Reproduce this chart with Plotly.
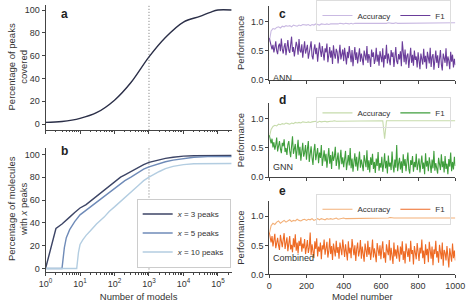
import numpy as np
import plotly.graph_objects as go

# ---------------- data ----------------
# Panel a: percentage of peaks covered vs number of models
a_models = [1, 3, 10, 30, 100, 300, 1000, 3000, 10000, 30000, 60000, 100000, 250000]
a_pct = [1.5, 2.3, 5, 10, 21, 36.5, 59, 76, 89.5, 94.5, 98, 100, 100]

# Panel b: percentage of molecules with x peaks
b3_models = [1, 2, 3, 4, 5, 7, 10, 15, 20, 30, 50, 70, 100, 150, 200, 300, 500, 700,
             1000, 2000, 3000, 5000, 10000, 20000, 50000, 100000, 250000]
b3_pct = [0, 35, 39, 42, 45, 49, 53, 56, 59, 63, 68, 72, 76, 80, 82, 85, 89, 91,
          93, 95.5, 96.5, 97.5, 98.5, 98.8, 99, 99, 99]
b5_models = [1, 2, 3, 3.5, 4, 5, 7, 10, 15, 20, 30, 50, 70, 100, 150, 200, 300, 500, 700,
             1000, 2000, 3000, 5000, 10000, 20000, 50000, 100000, 250000]
b5_pct = [0, 0, 0, 18, 27, 34, 41, 47, 51, 54, 58, 63, 67, 70, 74, 77, 80, 84, 87,
          89, 92, 93.5, 95, 96.5, 97.5, 98, 98, 98]
b10_models = [1, 2, 5, 8, 9, 10, 12, 15, 20, 30, 50, 70, 100, 150, 200, 300, 500, 700,
              1000, 2000, 3000, 5000, 10000, 20000, 50000, 100000, 250000]
b10_pct = [0, 0, 0, 0, 14, 21, 25, 29, 33, 39, 45, 50, 54, 59, 62, 67, 73, 77,
           80, 85, 87.5, 89.5, 91, 91.8, 92, 92, 92]
threshold_models = 1000

b_labels = ["<i>x</i> = 3 peaks", "<i>x</i> = 5 peaks", "<i>x</i> = 10 peaks"]
decade_vals = [1, 10, 100, 1000, 10000, 100000]
decade_text = ["10<sup>0</sup>", "10<sup>1</sup>", "10<sup>2</sup>",
               "10<sup>3</sup>", "10<sup>4</sup>", "10<sup>5</sup>"]

# Panels c-e: performance vs model number
f1_models = list(range(0, 1001, 5))
acc_models = list(range(0, 1001, 10))

ann_f1 = [0.72,0.64,0.58,0.52,0.60,0.47,0.55,0.66,0.50,0.44,0.58,0.62,0.49,0.71,0.53,0.45,0.57,0.63,0.42,0.55,0.68,
          0.51,0.46,0.60,0.74,0.48,0.56,0.40,0.52,0.65,0.58,0.43,0.70,0.50,0.47,0.61,0.38,0.55,0.66,0.45,0.53,
          0.60,0.36,0.49,0.57,0.66,0.41,0.35,0.52,0.61,0.44,0.55,0.31,0.48,0.64,0.50,0.39,0.58,0.45,0.33,0.54,
          0.47,0.62,0.30,0.42,0.56,0.38,0.50,0.27,0.59,0.44,0.36,0.53,0.48,0.28,0.41,0.60,0.35,0.46,0.52,0.32,
          0.55,0.40,0.26,0.48,0.37,0.58,0.44,0.30,0.51,0.23,0.42,0.56,0.34,0.47,0.28,0.39,0.54,0.31,0.45,0.36,
          0.25,0.50,0.41,0.33,0.58,0.29,0.44,0.37,0.22,0.52,0.39,0.47,0.27,0.35,0.55,0.31,0.43,0.24,0.49,0.38,
          0.30,0.54,0.21,0.42,0.36,0.60,0.28,0.45,0.33,0.25,0.51,0.39,0.47,0.22,0.38,0.56,0.32,0.27,0.44,0.35,
          0.49,0.23,0.66,0.37,0.30,0.52,0.26,0.41,0.45,0.20,0.36,0.55,0.29,0.43,0.24,0.50,0.34,0.40,0.21,0.47,
          0.33,0.18,0.45,0.38,0.26,0.53,0.30,0.41,0.19,0.48,0.35,0.28,0.55,0.22,0.39,0.44,0.17,0.36,0.50,0.29,
          0.42,0.20,0.34,0.51,0.26,0.16,0.45,0.37,0.29,0.54,0.23,0.40,0.33,0.18,0.48,0.31,0.43,0.21,0.36,0.25]

gnn_f1 = [0.72,0.63,0.58,0.66,0.51,0.60,0.47,0.55,0.68,0.44,0.57,0.62,0.49,0.41,0.59,0.53,0.65,0.43,0.50,0.38,0.56,
          0.62,0.45,0.34,0.53,0.70,0.40,0.48,0.57,0.31,0.44,0.64,0.37,0.52,0.28,0.46,0.59,0.35,0.42,0.55,0.30,
          0.48,0.62,0.26,0.39,0.53,0.33,0.21,0.45,0.57,0.29,0.37,0.50,0.24,0.42,0.33,0.55,0.19,0.36,0.46,0.27,
          0.40,0.16,0.31,0.50,0.23,0.38,0.14,0.44,0.28,0.35,0.52,0.19,0.30,0.42,0.13,0.26,0.47,0.22,0.34,0.17,
          0.29,0.45,0.12,0.24,0.38,0.20,0.50,0.15,0.32,0.09,0.27,0.41,0.18,0.35,0.11,0.23,0.44,0.16,0.30,0.21,
          0.10,0.38,0.25,0.17,0.46,0.12,0.29,0.08,0.34,0.21,0.40,0.14,0.26,0.07,0.32,0.19,0.43,0.11,0.24,0.16,
          0.35,0.09,0.22,0.41,0.15,0.28,0.06,0.37,0.18,0.25,0.12,0.44,0.20,0.08,0.30,0.16,0.55,0.10,0.23,0.33,
          0.13,0.27,0.07,0.39,0.19,0.31,0.10,0.24,0.42,0.14,0.06,0.29,0.21,0.36,0.09,0.26,0.17,0.40,0.12,0.22,
          0.32,0.08,0.19,0.37,0.14,0.25,0.05,0.41,0.18,0.28,0.10,0.34,0.22,0.07,0.30,0.15,0.45,0.11,0.24,0.16,
          0.06,0.33,0.20,0.12,0.39,0.17,0.27,0.08,0.36,0.14,0.23,0.05,0.31,0.18,0.42,0.10,0.26,0.13,0.35,0.19]

comb_f1 = [0.72,0.61,0.55,0.66,0.48,0.59,0.70,0.45,0.57,0.63,0.50,0.42,0.68,0.54,0.47,0.60,0.71,0.44,0.52,0.64,0.40,
           0.56,0.66,0.43,0.51,0.38,0.62,0.47,0.69,0.41,0.55,0.36,0.58,0.49,0.64,0.39,0.53,0.45,0.61,0.35,0.50,
           0.59,0.37,0.46,0.72,0.33,0.52,0.41,0.28,0.57,0.44,0.62,0.31,0.48,0.39,0.55,0.26,0.50,0.43,0.60,0.34,
           0.45,0.56,0.29,0.40,0.62,0.35,0.49,0.25,0.53,0.42,0.31,0.58,0.37,0.47,0.27,0.55,0.39,0.33,0.60,0.44,
           0.30,0.52,0.41,0.24,0.57,0.36,0.46,0.28,0.61,0.38,0.33,0.50,0.23,0.44,0.55,0.31,0.40,0.59,0.27,0.48,
           0.36,0.22,0.53,0.42,0.30,0.58,0.34,0.47,0.25,0.39,0.60,0.29,0.45,0.35,0.21,0.54,0.41,0.32,0.50,0.26,
           0.44,0.57,0.28,0.38,0.20,0.52,0.41,0.33,0.59,0.24,0.46,0.36,0.18,0.55,0.31,0.43,0.27,0.50,0.37,0.22,
           0.48,0.34,0.57,0.25,0.40,0.19,0.53,0.37,0.30,0.45,0.22,0.58,0.35,0.42,0.17,0.49,0.32,0.26,0.54,0.39,
           0.23,0.46,0.36,0.60,0.28,0.41,0.18,0.52,0.33,0.44,0.21,0.56,0.38,0.27,0.48,0.16,0.43,0.35,0.58,0.29,
           0.40,0.20,0.51,0.34,0.26,0.55,0.15,0.42,0.37,0.24,0.49,0.31,0.12,0.45,0.36,0.22,0.53,0.28,0.41,0.24]

ann_acc = [0.65,0.84,0.88,0.87,0.90,0.91,0.89,0.92,0.91,0.93,0.92,0.93,0.91,0.94,0.93,0.92,0.94,0.93,0.95,0.94,
           0.94,0.95,0.93,0.95,0.94,0.96,0.95,0.94,0.96,0.95,0.95,0.96,0.95,0.96,0.96,0.95,0.96,0.96,0.97,0.96,
           0.96,0.97,0.96,0.96,0.97,0.96,0.97,0.97,0.96,0.97,0.97,0.97,0.96,0.97,0.97,0.97,0.97,0.97,0.97,0.97,
           0.97,0.97,0.97,0.97,0.98,0.97,0.97,0.97,0.98,0.97,0.97,0.98,0.97,0.97,0.98,0.97,0.98,0.97,0.98,0.98,
           0.97,0.98,0.98,0.97,0.98,0.98,0.98,0.97,0.98,0.98,0.98,0.98,0.97,0.98,0.98,0.98,0.98,0.98,0.98,0.98,0.98]

gnn_acc = [0.68,0.82,0.87,0.89,0.88,0.91,0.90,0.92,0.91,0.93,0.92,0.91,0.93,0.92,0.94,0.93,0.94,0.93,0.95,0.94,
           0.94,0.95,0.94,0.95,0.95,0.96,0.94,0.96,0.95,0.96,0.96,0.95,0.96,0.96,0.96,0.97,0.96,0.96,0.97,0.96,
           0.97,0.96,0.97,0.97,0.96,0.97,0.97,0.97,0.97,0.96,0.97,0.97,0.97,0.97,0.97,0.97,0.97,0.97,0.97,0.97,
           0.97,0.97,0.66,0.97,0.97,0.97,0.97,0.98,0.97,0.97,0.97,0.97,0.97,0.98,0.97,0.97,0.97,0.98,0.97,0.97,
           0.98,0.97,0.97,0.97,0.98,0.97,0.97,0.98,0.97,0.97,0.98,0.97,0.97,0.98,0.97,0.97,0.98,0.97,0.97,0.97,0.97]

comb_acc = [0.70,0.84,0.88,0.86,0.90,0.92,0.88,0.91,0.93,0.90,0.92,0.94,0.91,0.93,0.92,0.95,0.93,0.92,0.94,0.95,
            0.93,0.95,0.94,0.96,0.93,0.95,0.96,0.94,0.96,0.95,0.94,0.96,0.95,0.96,0.95,0.96,0.97,0.95,0.96,0.96,
            0.97,0.96,0.96,0.97,0.96,0.97,0.96,0.97,0.97,0.96,0.97,0.97,0.97,0.96,0.97,0.97,0.97,0.97,0.97,0.97,
            0.97,0.97,0.97,0.97,0.97,0.98,0.97,0.97,0.97,0.97,0.98,0.97,0.97,0.97,0.98,0.97,0.97,0.98,0.97,0.97,
            0.98,0.97,0.98,0.97,0.97,0.98,0.97,0.98,0.97,0.98,0.97,0.98,0.97,0.98,0.97,0.98,0.97,0.98,0.98,0.97,0.97]

panel_names = ["ANN", "GNN", "Combined"]
f1_series = [ann_f1, gnn_f1, comb_f1]
acc_series = [ann_acc, gnn_acc, comb_acc]

# ---------------- styling / layout ----------------
W, H = 474, 304
FONT = "Liberation Sans, Arial, Helvetica, sans-serif"
TXT = "#333333"
AX = "#444444"


def fx(p):
    return p / W


def fy(p):
    return 1 - p / H


a_color = "#2b2f48"
b_colors = ["#3d4566", "#6f8bb8", "#b3cde1"]
f1_colors = ["#6a3d9a", "#3f9e3c", "#ee6a24"]
acc_colors = ["#c9b9e2", "#c6dbab", "#f3b078"]

fig = go.Figure()

# panel a
fig.add_trace(go.Scatter(x=a_models, y=a_pct, mode="lines", line=dict(color=a_color, width=1.4, shape="spline"),
                         xaxis="x", yaxis="y", showlegend=False))
# panel b
for mx, py, lab, col in zip([b3_models, b5_models, b10_models], [b3_pct, b5_pct, b10_pct], b_labels, b_colors):
    fig.add_trace(go.Scatter(x=mx, y=py, mode="lines", name=lab, line=dict(color=col, width=1.4),
                             xaxis="x2", yaxis="y2", legend="legend"))

# panels c-e
legend_ids = ["legend2", "legend3", "legend4"]
for i in range(3):
    ax = str(i + 3)
    fig.add_trace(go.Scatter(x=acc_models, y=acc_series[i], mode="lines", name="Accuracy",
                             line=dict(color=acc_colors[i], width=1.1), xaxis="x" + ax, yaxis="y" + ax,
                             legend=legend_ids[i]))
    fig.add_trace(go.Scatter(x=f1_models, y=f1_series[i], mode="lines", name="F1",
                             line=dict(color=f1_colors[i], width=1.1), xaxis="x" + ax, yaxis="y" + ax,
                             legend=legend_ids[i]))

minor_vals = [k * 10 ** d for d in range(0, 6) for k in range(2, 10) if k * 10 ** d <= 250000]

base_axis = dict(showline=True, linecolor=AX, linewidth=1, ticks="outside", tickcolor=AX, ticklen=3,
                 tickwidth=1, showgrid=False, zeroline=False, tickfont=dict(size=9, color=TXT, family=FONT),
                 ticklabeloverflow="allow")

log_x = dict(base_axis, type="log", range=[0, np.log10(250000)], tickmode="array", tickvals=decade_vals,
             minor=dict(tickmode="array", tickvals=minor_vals, ticks="outside", ticklen=1.5, tickcolor=AX))

left_dom = [fx(40), fx(233)]
right_dom = [fx(272), fx(465)]
pct_y = dict(base_axis, range=[-5, 104.5], tickmode="array", tickvals=[0, 20, 40, 60, 80, 100])
perf_y = dict(base_axis, range=[0, 1.27], tickmode="array", tickvals=[0, 0.5, 1.0],
              ticktext=["0.0", "0.5", "1.0"],
              title=dict(text="Performance", font=dict(size=9.5, color=TXT, family=FONT), standoff=4))
perf_x = dict(base_axis, range=[0, 1000], tickmode="array", tickvals=[0, 200, 400, 600, 800, 1000])

fig.update_layout(
    width=W, height=H, margin=dict(l=0, r=0, t=0, b=0),
    paper_bgcolor="white", plot_bgcolor="white",
    font=dict(family=FONT, size=9, color=TXT),
    xaxis=dict(log_x, domain=left_dom, anchor="y", showticklabels=False),
    yaxis=dict(pct_y, domain=[fy(132), fy(5)], anchor="x"),
    xaxis2=dict(log_x, domain=left_dom, anchor="y2", ticktext=decade_text,
                title=dict(text="Number of models", font=dict(size=9.5, color=TXT, family=FONT), standoff=5)),
    yaxis2=dict(pct_y, domain=[fy(277), fy(150)], anchor="x2", range=[-3.5, 106]),
    xaxis3=dict(perf_x, domain=right_dom, anchor="y3", showticklabels=False),
    yaxis3=dict(perf_y, domain=[fy(81), fy(6)], anchor="x3"),
    xaxis4=dict(perf_x, domain=right_dom, anchor="y4", showticklabels=False),
    yaxis4=dict(perf_y, domain=[fy(180), fy(105)], anchor="x4"),
    xaxis5=dict(perf_x, domain=right_dom, anchor="y5",
                title=dict(text="Model number", font=dict(size=9.5, color=TXT, family=FONT), standoff=3)),
    yaxis5=dict(perf_y, domain=[fy(279), fy(204)], anchor="x5"),
    legend=dict(x=fx(232), xanchor="right", y=fy(272), yanchor="bottom", bgcolor="white",
                bordercolor="#cccccc", borderwidth=1, font=dict(size=8, color=TXT, family=FONT)),
)
for i, lid in enumerate(legend_ids):
    top = [0, 99, 197][i]
    fig.update_layout({lid: dict(x=fx(461), xanchor="right", y=fy(top), yanchor="top", orientation="h",
                                 bgcolor="rgba(255,255,255,0)", bordercolor="#dddddd", borderwidth=1,
                                 font=dict(size=8, color=TXT, family=FONT))})

# dotted threshold lines
for xr, yr in [("x", "y"), ("x2", "y2")]:
    fig.add_shape(type="line", xref=xr, yref=yr + " domain", x0=threshold_models, x1=threshold_models,
                  y0=0, y1=1, line=dict(color="#777777", width=1, dash="1px,2px"), layer="below")

# y titles for left panels
fig.add_annotation(x=fx(11), y=fy(68), xref="paper", yref="paper", text="Percentage of peaks<br>covered",
                   textangle=-90, showarrow=False, xanchor="center", yanchor="middle",
                   font=dict(size=9.5, color=TXT, family=FONT))
fig.add_annotation(x=fx(11), y=fy(212), xref="paper", yref="paper",
                   text="Percentage of molecules<br>with <i>x</i> peaks",
                   textangle=-90, showarrow=False, xanchor="center", yanchor="middle",
                   font=dict(size=9.5, color=TXT, family=FONT))

# panel letters
for lab, px_, py_ in [("a", 54, 5), ("b", 54, 154), ("c", 286, 5), ("d", 286, 102), ("e", 286, 203)]:
    fig.add_annotation(x=fx(px_), y=fy(py_), xref="paper", yref="paper", text="<b>" + lab + "</b>",
                       showarrow=False, font=dict(size=12, color="#222222", family=FONT))

# model-type labels
for name, py_ in zip(panel_names, [72, 170, 269]):
    fig.add_annotation(x=fx(274), y=fy(py_), xref="paper", yref="paper", text=name, xanchor="left",
                       showarrow=False, font=dict(size=9, color=TXT, family=FONT))

fig.write_html("out.html")
